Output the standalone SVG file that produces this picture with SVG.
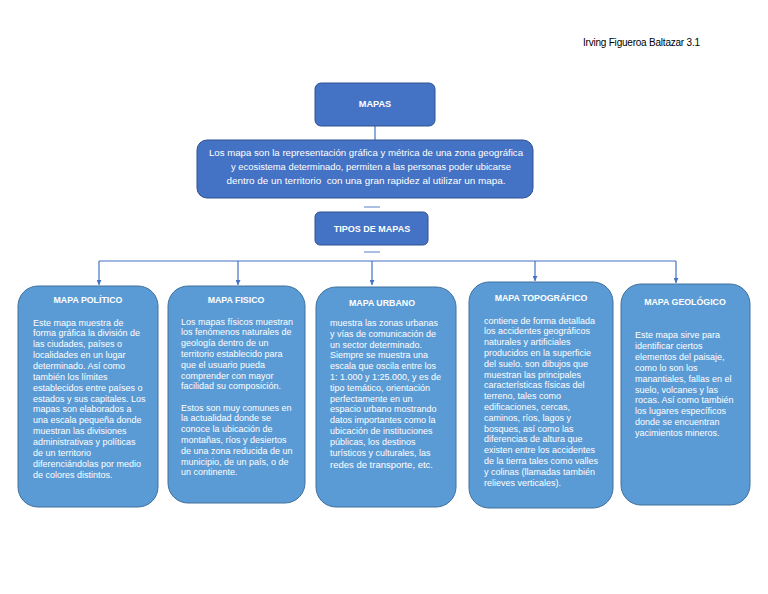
<svg xmlns="http://www.w3.org/2000/svg" width="768" height="594" viewBox="0 0 768 594">
<style>
.dark{fill:#4472C4;stroke:#2F528F;stroke-width:1}
.light{fill:#5B9BD5;stroke:#41719C;stroke-width:1}
.hd{font-family:"Liberation Sans",Arial,sans-serif;font-weight:bold;fill:#fff;text-anchor:middle}
.tb{font-family:"Liberation Sans",Arial,sans-serif;font-size:9px;fill:#fff}
.desc{font-family:"Liberation Sans",Arial,sans-serif;font-size:9.6px;fill:#fff;text-anchor:middle;white-space:pre}
.ln{stroke:#4472C4;stroke-width:1.2;fill:none}
.dash{stroke:#8FAADC;stroke-width:1.5}
</style>
<defs>
<marker id="ar" viewBox="0 0 10 10" refX="10" refY="5" markerWidth="5" markerHeight="5" orient="auto" markerUnits="userSpaceOnUse">
<path d="M0,0 L10,5 L0,10 z" fill="#4472C4"/>
</marker>
</defs>
<rect width="768" height="594" fill="#fff"/>
<text x="583" y="46" font-family="Liberation Sans,Arial,sans-serif" font-size="10" fill="#000" textLength="117" lengthAdjust="spacing">Irving Figueroa Baltazar 3.1</text>

<g id="connectors">
<line class="ln" x1="375" y1="126" x2="375" y2="140"/>
<line class="dash" x1="364" y1="207" x2="380" y2="207"/>
<line class="dash" x1="364" y1="252" x2="380" y2="252"/>
<line class="ln" x1="99" y1="261" x2="676" y2="261"/>
<line class="ln" x1="99" y1="261" x2="99" y2="285" marker-end="url(#ar)"/>
<line class="ln" x1="238" y1="261" x2="238" y2="285" marker-end="url(#ar)"/>
<line class="ln" x1="372" y1="261" x2="372" y2="285" marker-end="url(#ar)"/>
<line class="ln" x1="535" y1="261" x2="535" y2="281" marker-end="url(#ar)"/>
<line class="ln" x1="676" y1="261" x2="676" y2="283" marker-end="url(#ar)"/>
</g>

<g id="mapas">
<rect class="dark" x="315" y="83" width="120" height="43" rx="6"/>
<text class="hd" x="375" y="107" font-size="9.2">MAPAS</text>
</g>

<g id="definicion">
<rect class="dark" x="197" y="140" width="336" height="58" rx="10"/>
<text class="desc" x="366" y="156" textLength="314" lengthAdjust="spacingAndGlyphs">Los mapa son la representación gráfica y métrica de una zona geográfica</text>
<text class="desc" x="371" y="170" textLength="280" lengthAdjust="spacingAndGlyphs">y ecosistema determinado, permiten a las personas poder ubicarse</text>
<text class="desc" x="366" y="184" textLength="279" lengthAdjust="spacingAndGlyphs" xml:space="preserve">dentro de un territorio  con una gran rapidez al utilizar un mapa.</text>
</g>

<g id="tipos">
<rect class="dark" x="315" y="212" width="113" height="33" rx="5"/>
<text class="hd" x="372" y="232" font-size="9">TIPOS DE MAPAS</text>
</g>

<g id="politico">
<rect class="light" x="18" y="286" width="140" height="221" rx="20"/>
<text class="hd" x="88" y="303" font-size="8.8">MAPA POLÍTICO</text>
<text class="tb" y="325.5">
<tspan x="33">Este mapa muestra de</tspan>
<tspan x="33" dy="10.86">forma gráfica la división de</tspan>
<tspan x="33" dy="10.86">las ciudades, países o</tspan>
<tspan x="33" dy="10.86">localidades en un lugar</tspan>
<tspan x="33" dy="10.86">determinado. Así como</tspan>
<tspan x="33" dy="10.86">también los límites</tspan>
<tspan x="33" dy="10.86">establecidos entre países o</tspan>
<tspan x="33" dy="10.86">estados y sus capitales. Los</tspan>
<tspan x="33" dy="10.86">mapas son elaborados a</tspan>
<tspan x="33" dy="10.86">una escala pequeña donde</tspan>
<tspan x="33" dy="10.86">muestran las divisiones</tspan>
<tspan x="33" dy="10.86">administrativas y políticas</tspan>
<tspan x="33" dy="10.86">de un territorio</tspan>
<tspan x="33" dy="10.86">diferenciándolas por medio</tspan>
<tspan x="33" dy="10.86">de colores distintos.</tspan>
</text>
</g>

<g id="fisico">
<rect class="light" x="168" y="286" width="137" height="217" rx="20"/>
<text class="hd" x="236" y="303" font-size="8.8">MAPA FISICO</text>
<text class="tb" y="324.5">
<tspan x="181">Los mapas físicos muestran</tspan>
<tspan x="181" dy="10.8">los fenómenos naturales de</tspan>
<tspan x="181" dy="10.8">geología dentro de un</tspan>
<tspan x="181" dy="10.8">territorio establecido para</tspan>
<tspan x="181" dy="10.8">que el usuario pueda</tspan>
<tspan x="181" dy="10.8">comprender con mayor</tspan>
<tspan x="181" dy="10.8">facilidad su composición.</tspan>
<tspan x="181" dy="21.2">Estos son muy comunes en</tspan>
<tspan x="181" dy="10.8">la actualidad donde se</tspan>
<tspan x="181" dy="10.8">conoce la ubicación de</tspan>
<tspan x="181" dy="10.8">montañas, ríos y desiertos</tspan>
<tspan x="181" dy="10.8">de una zona reducida de un</tspan>
<tspan x="181" dy="10.8">municipio, de un país, o de</tspan>
<tspan x="181" dy="10.8">un continente.</tspan>
</text>
</g>

<g id="urbano">
<rect class="light" x="316" y="287" width="140" height="220" rx="20"/>
<text class="hd" x="382" y="306" font-size="8.8">MAPA URBANO</text>
<text class="tb" y="326">
<tspan x="330">muestra las zonas urbanas</tspan>
<tspan x="330" dy="10.8">y vías de comunicación de</tspan>
<tspan x="330" dy="10.8">un sector determinado.</tspan>
<tspan x="330" dy="10.8">Siempre se muestra una</tspan>
<tspan x="330" dy="10.8">escala que oscila entre los</tspan>
<tspan x="330" dy="10.8">1: 1.000 y 1:25.000, y es de</tspan>
<tspan x="330" dy="10.8">tipo temático, orientación</tspan>
<tspan x="330" dy="10.8">perfectamente en un</tspan>
<tspan x="330" dy="10.8">espacio urbano mostrando</tspan>
<tspan x="330" dy="10.8">datos importantes como la</tspan>
<tspan x="330" dy="10.8">ubicación de instituciones</tspan>
<tspan x="330" dy="10.8">públicas, los destinos</tspan>
<tspan x="330" dy="10.8">turísticos y culturales, las</tspan>
<tspan x="330" dy="12" font-size="9.5">redes de transporte, etc.</tspan>
</text>
</g>

<g id="topografico">
<rect class="light" x="469" y="282" width="144" height="226" rx="20"/>
<text class="hd" x="541" y="301" font-size="8.8">MAPA TOPOGRÁFICO</text>
<text class="tb" y="323.5">
<tspan x="484">contiene de forma detallada</tspan>
<tspan x="484" dy="10.8">los accidentes geográficos</tspan>
<tspan x="484" dy="10.8">naturales y artificiales</tspan>
<tspan x="484" dy="10.8">producidos en la superficie</tspan>
<tspan x="484" dy="10.8">del suelo. son dibujos que</tspan>
<tspan x="484" dy="10.8">muestran las principales</tspan>
<tspan x="484" dy="10.8">características físicas del</tspan>
<tspan x="484" dy="10.8">terreno, tales como</tspan>
<tspan x="484" dy="10.8">edificaciones, cercas,</tspan>
<tspan x="484" dy="10.8">caminos, ríos, lagos y</tspan>
<tspan x="484" dy="10.8">bosques, así como las</tspan>
<tspan x="484" dy="10.8">diferencias de altura que</tspan>
<tspan x="484" dy="10.8">existen entre los accidentes</tspan>
<tspan x="484" dy="10.8">de la tierra tales como valles</tspan>
<tspan x="484" dy="10.8">y colinas (llamadas también</tspan>
<tspan x="484" dy="10.8">relieves verticales).</tspan>
</text>
</g>

<g id="geologico">
<rect class="light" x="621" y="284" width="129" height="221" rx="20"/>
<text class="hd" x="685" y="305" font-size="8.8">MAPA GEOLÓGICO</text>
<text class="tb" y="338">
<tspan x="635">Este mapa sirve para</tspan>
<tspan x="635" dy="10.9">identificar ciertos</tspan>
<tspan x="635" dy="10.9">elementos del paisaje,</tspan>
<tspan x="635" dy="10.9">como lo son los</tspan>
<tspan x="635" dy="10.9">manantiales, fallas en el</tspan>
<tspan x="635" dy="10.9">suelo, volcanes y las</tspan>
<tspan x="635" dy="10.9">rocas. Así como también</tspan>
<tspan x="635" dy="10.9">los lugares específicos</tspan>
<tspan x="635" dy="10.9">donde se encuentran</tspan>
<tspan x="635" dy="10.9">yacimientos mineros.</tspan>
</text>
</g>
</svg>
